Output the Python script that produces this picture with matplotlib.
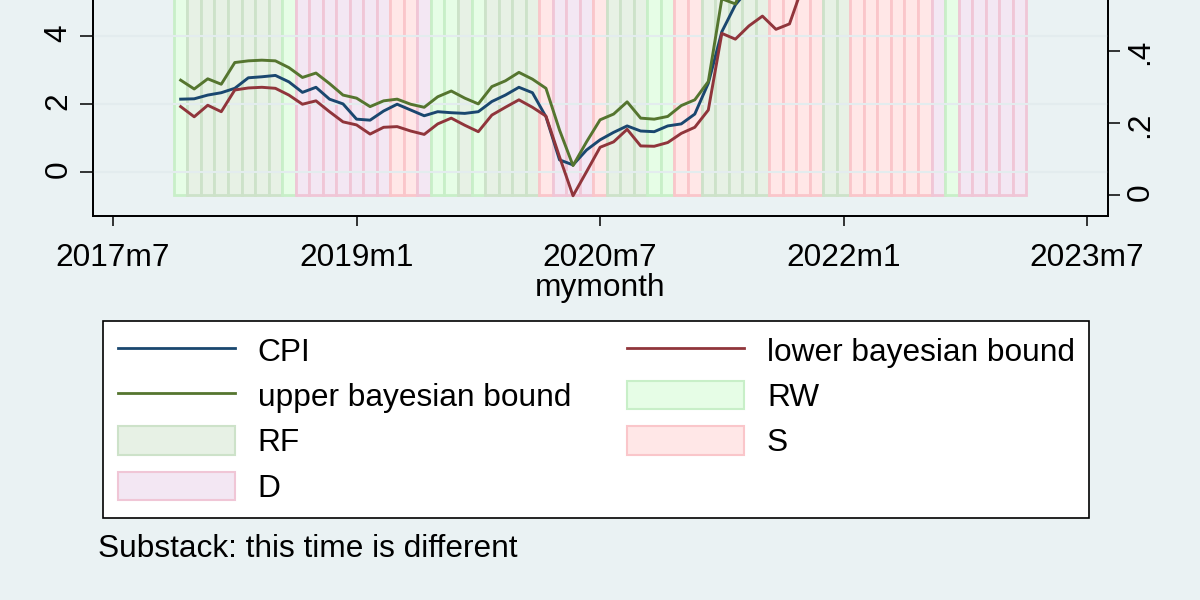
import numpy as np
import pandas as pd
import matplotlib
matplotlib.use("Agg")
import matplotlib.pyplot as plt
from matplotlib.lines import Line2D
from matplotlib.patches import Patch

plt.rcParams['font.family'] = ['Liberation Sans', 'DejaVu Sans']
FS = 22.8

# monthly data, 2017m12 .. 2023m2
months = pd.period_range('2017-12', '2023-02', freq='M')

cpi = [2.14, 2.15, 2.26, 2.33, 2.46, 2.77, 2.80, 2.84, 2.65, 2.34, 2.49, 2.14,
       2.00, 1.55, 1.52, 1.79, 1.99, 1.82, 1.65, 1.77, 1.74, 1.72, 1.77, 2.07,
       2.26, 2.49, 2.33, 1.62, 0.35, 0.20, 0.64, 0.94, 1.16, 1.35, 1.20, 1.18,
       1.35, 1.41, 1.70, 2.61, 4.13, 4.92, 5.40, 5.40, 5.30, 5.40, 6.20, 6.80,
       7.00, 7.50, 7.90, 8.50, 8.30, 8.60, 9.10, 8.50, 8.30, 8.20, 7.70, 7.10,
       6.50, 6.40, 6.00]

upper = [2.70, 2.44, 2.74, 2.58, 3.22, 3.27, 3.29, 3.27, 3.07, 2.78, 2.91, 2.60,
         2.26, 2.17, 1.92, 2.09, 2.14, 1.99, 1.90, 2.21, 2.38, 2.17, 2.00, 2.51,
         2.68, 2.93, 2.73, 2.46, 1.23, 0.18, 0.88, 1.53, 1.70, 2.06, 1.58, 1.55,
         1.63, 1.95, 2.12, 2.66, 5.10, 4.95, 5.90, 6.00, 5.80, 5.90, 6.70, 7.30,
         7.50, 8.00, 8.40, 9.00, 8.80, 9.10, 9.60, 9.00, 8.80, 8.70, 8.20, 7.60,
         7.00, 6.90, 6.50]

lower = [1.92, 1.62, 1.96, 1.77, 2.41, 2.47, 2.49, 2.46, 2.26, 1.99, 2.09, 1.77,
         1.47, 1.38, 1.11, 1.31, 1.33, 1.20, 1.10, 1.41, 1.58, 1.37, 1.18, 1.67,
         1.90, 2.12, 1.90, 1.64, 0.44, -0.71, 0.00, 0.72, 0.88, 1.25, 0.76, 0.75,
         0.86, 1.13, 1.31, 1.82, 4.08, 3.91, 4.30, 4.59, 4.20, 4.36, 5.50, 6.00,
         6.30, 6.70, 7.10, 7.60, 7.50, 7.80, 8.20, 7.70, 7.50, 7.40, 6.90, 6.30,
         5.80, 5.70, 5.40]

regime = (['RW'] + ['RF'] * 7 + ['RW'] + ['D'] * 7 + ['S'] * 2 + ['D'] +
          ['RW'] * 2 + ['RF'] + ['RW'] + ['RF'] * 4 + ['S'] + ['D'] * 3 + ['S'] +
          ['RF'] * 3 + ['RW'] * 2 + ['S'] * 2 + ['RF'] * 5 + ['S'] * 4 +
          ['RF'] * 2 + ['S'] * 6 + ['D'] + ['RW'] + ['D'] * 5)

xtick_months = ['2017-07', '2019-01', '2020-07', '2022-01', '2023-07']
xtick_labels = ['2017m7', '2019m1', '2020m7', '2022m1', '2023m7']
# only the ticks that fall inside the visible (cropped) picture
left_ticks = [0, 2, 4]
right_ticks = [0, .2, .4]
right_labels = ['0', '.2', '.4']

# fill / outline colours per regime
shade = {
    'RW': ('#e6fde6', '#c8efc8'),
    'RF': ('#e7f1e5', '#cde2c9'),
    'S': ('#ffe7e7', '#fac6ca'),
    'D': ('#f3e7f3', '#f0c6d6'),
}
c_cpi, c_low, c_up = '#1a476f', '#90353b', '#55752f'


def stata_month(p):
    # Stata %tm: months since 1960m1
    return (p.year - 1960) * 12 + p.month - 1


x = np.array([stata_month(p) for p in months])
xt = [stata_month(pd.Period(s, freq='M')) for s in xtick_months]

fig = plt.figure(figsize=(12, 6), dpi=100)
fig.patch.set_facecolor('#eaf2f3')

# plot region is cut off at the top of the picture
ax = fig.add_axes([93 / 1200, 1 - 216 / 600, 1014.7 / 1200, 386 / 600])
ax2 = ax.twinx()
ax.set_zorder(2)
ax.patch.set_visible(False)
ax2.set_zorder(1)
ax2.patch.set_facecolor('white')

# regime shading on the right axis
for xi, r in zip(x, regime):
    ax2.bar(xi, 1.0, width=1.0, bottom=0, color=shade[r][0],
            edgecolor=shade[r][1], linewidth=2)

ax.plot(x, cpi, color=c_cpi, lw=2.1)
ax.plot(x, lower, color=c_low, lw=2.1)
ax.plot(x, upper, color=c_up, lw=2.1)

ax.set_xlim(xt[0] - 1.48, xt[0] + 73.52)
ax.set_ylim(-1.307, 10.08)
ax2.set_ylim(-0.058, 1.011)

ax.set_xticks(xt)
ax.set_xticklabels(xtick_labels)
ax.set_yticks(left_ticks)
ax.set_yticklabels([str(t) for t in left_ticks])
ax2.set_yticks(right_ticks)
ax2.set_yticklabels(right_labels)

ax.grid(axis='y', color='#e3ecee', lw=1.5)
ax.tick_params(axis='x', length=7.2, width=1.1, pad=12.5, labelsize=FS)
ax.tick_params(axis='y', length=9.4, width=1.1, pad=4.5, labelsize=FS,
               labelrotation=90)
ax2.tick_params(axis='y', length=8.8, width=1.1, pad=4, labelsize=FS,
                labelrotation=90)
for a in (ax, ax2):
    for s in ('left', 'bottom', 'right'):
        a.spines[s].set_linewidth(1.3)
    a.spines['top'].set_visible(False)

ax.set_xlabel('mymonth', fontsize=FS, labelpad=0)

handles = [
    Line2D([], [], color=c_cpi, lw=2),
    Line2D([], [], color=c_up, lw=2),
    Patch(facecolor=shade['RF'][0], edgecolor=shade['RF'][1], lw=1.5),
    Patch(facecolor=shade['D'][0], edgecolor=shade['D'][1], lw=1.5),
    Line2D([], [], color=c_low, lw=2),
    Patch(facecolor=shade['RW'][0], edgecolor=shade['RW'][1], lw=1.5),
    Patch(facecolor=shade['S'][0], edgecolor=shade['S'][1], lw=1.5),
]
labels = ['CPI', 'upper bayesian bound', 'RF', 'D',
          'lower bayesian bound', 'RW', 'S']
leg = fig.legend(handles, labels, loc='upper left',
                 bbox_to_anchor=(103 / 1200, 1 - 321 / 600), borderaxespad=0,
                 ncol=2, fontsize=FS, handlelength=3.7, handleheight=1.0,
                 handletextpad=0.73, columnspacing=1.75, labelspacing=0.42,
                 borderpad=0.46, fancybox=False, framealpha=1)
leg.get_frame().set_edgecolor('black')
leg.get_frame().set_linewidth(1.2)

fig.text(98 / 1200, 1 - 549 / 600, 'Substack: this time is different',
         fontsize=FS, va='center', ha='left')

fig.savefig('out.png', dpi=100, facecolor=fig.get_facecolor())
